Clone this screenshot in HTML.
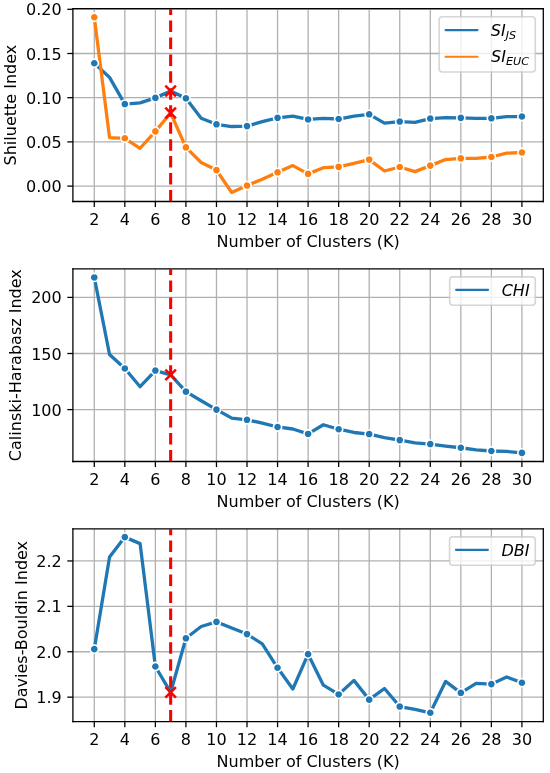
<!DOCTYPE html>
<html><head><meta charset="utf-8"><style>
html,body{margin:0;padding:0;background:#fff;}
body{width:550px;height:773px;overflow:hidden;}
svg{display:block;}
</style></head><body>
<svg width="550" height="773" viewBox="0 0 343.75 483.125" version="1.1">
 
 <defs>
  <style type="text/css">*{stroke-linejoin: round; stroke-linecap: butt}</style>
 </defs>
 <g id="figure_1">
  <g id="patch_1">
   <path d="M 0 483.125 
L 343.75 483.125 
L 343.75 0 
L 0 0 
z
" style="fill: #ffffff"/>
  </g>
  <g id="axes_1">
   <g id="patch_2">
    <path d="M 45.5625 125.9375 
L 339.5625 125.9375 
L 339.5625 5.4375 
L 45.5625 5.4375 
z
" style="fill: #ffffff"/>
   </g>
   <g id="matplotlib.axis_1">
    <g id="xtick_1">
     <g id="line2d_1">
      <path d="M 58.926136 125.9375 
L 58.926136 5.4375 
" clip-path="url(#p461cd8b347)" style="fill: none; stroke: #b0b0b0; stroke-width: 0.8; stroke-linecap: square"/>
     </g>
     <g id="line2d_2">
      <defs>
       <path id="m1504cfccaf" d="M 0 0 
L 0 3.5 
" style="stroke: #000000; stroke-width: 0.8"/>
      </defs>
      <g>
       <use href="#m1504cfccaf" x="58.926136" y="125.9375" style="stroke: #000000; stroke-width: 0.8"/>
      </g>
     </g>
     <g id="text_1">
      <text style="font-size: 10px; font-family: 'DejaVu Sans', sans-serif; text-anchor: middle" x="58.926136" y="140.535937" transform="rotate(-0 58.926136 140.535937)">2</text>
     </g>
    </g>
    <g id="xtick_2">
     <g id="line2d_3">
      <path d="M 78.017045 125.9375 
L 78.017045 5.4375 
" clip-path="url(#p461cd8b347)" style="fill: none; stroke: #b0b0b0; stroke-width: 0.8; stroke-linecap: square"/>
     </g>
     <g id="line2d_4">
      <g>
       <use href="#m1504cfccaf" x="78.017045" y="125.9375" style="stroke: #000000; stroke-width: 0.8"/>
      </g>
     </g>
     <g id="text_2">
      <text style="font-size: 10px; font-family: 'DejaVu Sans', sans-serif; text-anchor: middle" x="78.017045" y="140.535937" transform="rotate(-0 78.017045 140.535937)">4</text>
     </g>
    </g>
    <g id="xtick_3">
     <g id="line2d_5">
      <path d="M 97.107955 125.9375 
L 97.107955 5.4375 
" clip-path="url(#p461cd8b347)" style="fill: none; stroke: #b0b0b0; stroke-width: 0.8; stroke-linecap: square"/>
     </g>
     <g id="line2d_6">
      <g>
       <use href="#m1504cfccaf" x="97.107955" y="125.9375" style="stroke: #000000; stroke-width: 0.8"/>
      </g>
     </g>
     <g id="text_3">
      <text style="font-size: 10px; font-family: 'DejaVu Sans', sans-serif; text-anchor: middle" x="97.107955" y="140.535937" transform="rotate(-0 97.107955 140.535937)">6</text>
     </g>
    </g>
    <g id="xtick_4">
     <g id="line2d_7">
      <path d="M 116.198864 125.9375 
L 116.198864 5.4375 
" clip-path="url(#p461cd8b347)" style="fill: none; stroke: #b0b0b0; stroke-width: 0.8; stroke-linecap: square"/>
     </g>
     <g id="line2d_8">
      <g>
       <use href="#m1504cfccaf" x="116.198864" y="125.9375" style="stroke: #000000; stroke-width: 0.8"/>
      </g>
     </g>
     <g id="text_4">
      <text style="font-size: 10px; font-family: 'DejaVu Sans', sans-serif; text-anchor: middle" x="116.198864" y="140.535937" transform="rotate(-0 116.198864 140.535937)">8</text>
     </g>
    </g>
    <g id="xtick_5">
     <g id="line2d_9">
      <path d="M 135.289773 125.9375 
L 135.289773 5.4375 
" clip-path="url(#p461cd8b347)" style="fill: none; stroke: #b0b0b0; stroke-width: 0.8; stroke-linecap: square"/>
     </g>
     <g id="line2d_10">
      <g>
       <use href="#m1504cfccaf" x="135.289773" y="125.9375" style="stroke: #000000; stroke-width: 0.8"/>
      </g>
     </g>
     <g id="text_5">
      <text style="font-size: 10px; font-family: 'DejaVu Sans', sans-serif; text-anchor: middle" x="135.289773" y="140.535937" transform="rotate(-0 135.289773 140.535937)">10</text>
     </g>
    </g>
    <g id="xtick_6">
     <g id="line2d_11">
      <path d="M 154.380682 125.9375 
L 154.380682 5.4375 
" clip-path="url(#p461cd8b347)" style="fill: none; stroke: #b0b0b0; stroke-width: 0.8; stroke-linecap: square"/>
     </g>
     <g id="line2d_12">
      <g>
       <use href="#m1504cfccaf" x="154.380682" y="125.9375" style="stroke: #000000; stroke-width: 0.8"/>
      </g>
     </g>
     <g id="text_6">
      <text style="font-size: 10px; font-family: 'DejaVu Sans', sans-serif; text-anchor: middle" x="154.380682" y="140.535937" transform="rotate(-0 154.380682 140.535937)">12</text>
     </g>
    </g>
    <g id="xtick_7">
     <g id="line2d_13">
      <path d="M 173.471591 125.9375 
L 173.471591 5.4375 
" clip-path="url(#p461cd8b347)" style="fill: none; stroke: #b0b0b0; stroke-width: 0.8; stroke-linecap: square"/>
     </g>
     <g id="line2d_14">
      <g>
       <use href="#m1504cfccaf" x="173.471591" y="125.9375" style="stroke: #000000; stroke-width: 0.8"/>
      </g>
     </g>
     <g id="text_7">
      <text style="font-size: 10px; font-family: 'DejaVu Sans', sans-serif; text-anchor: middle" x="173.471591" y="140.535937" transform="rotate(-0 173.471591 140.535937)">14</text>
     </g>
    </g>
    <g id="xtick_8">
     <g id="line2d_15">
      <path d="M 192.5625 125.9375 
L 192.5625 5.4375 
" clip-path="url(#p461cd8b347)" style="fill: none; stroke: #b0b0b0; stroke-width: 0.8; stroke-linecap: square"/>
     </g>
     <g id="line2d_16">
      <g>
       <use href="#m1504cfccaf" x="192.5625" y="125.9375" style="stroke: #000000; stroke-width: 0.8"/>
      </g>
     </g>
     <g id="text_8">
      <text style="font-size: 10px; font-family: 'DejaVu Sans', sans-serif; text-anchor: middle" x="192.5625" y="140.535937" transform="rotate(-0 192.5625 140.535937)">16</text>
     </g>
    </g>
    <g id="xtick_9">
     <g id="line2d_17">
      <path d="M 211.653409 125.9375 
L 211.653409 5.4375 
" clip-path="url(#p461cd8b347)" style="fill: none; stroke: #b0b0b0; stroke-width: 0.8; stroke-linecap: square"/>
     </g>
     <g id="line2d_18">
      <g>
       <use href="#m1504cfccaf" x="211.653409" y="125.9375" style="stroke: #000000; stroke-width: 0.8"/>
      </g>
     </g>
     <g id="text_9">
      <text style="font-size: 10px; font-family: 'DejaVu Sans', sans-serif; text-anchor: middle" x="211.653409" y="140.535937" transform="rotate(-0 211.653409 140.535937)">18</text>
     </g>
    </g>
    <g id="xtick_10">
     <g id="line2d_19">
      <path d="M 230.744318 125.9375 
L 230.744318 5.4375 
" clip-path="url(#p461cd8b347)" style="fill: none; stroke: #b0b0b0; stroke-width: 0.8; stroke-linecap: square"/>
     </g>
     <g id="line2d_20">
      <g>
       <use href="#m1504cfccaf" x="230.744318" y="125.9375" style="stroke: #000000; stroke-width: 0.8"/>
      </g>
     </g>
     <g id="text_10">
      <text style="font-size: 10px; font-family: 'DejaVu Sans', sans-serif; text-anchor: middle" x="230.744318" y="140.535937" transform="rotate(-0 230.744318 140.535937)">20</text>
     </g>
    </g>
    <g id="xtick_11">
     <g id="line2d_21">
      <path d="M 249.835227 125.9375 
L 249.835227 5.4375 
" clip-path="url(#p461cd8b347)" style="fill: none; stroke: #b0b0b0; stroke-width: 0.8; stroke-linecap: square"/>
     </g>
     <g id="line2d_22">
      <g>
       <use href="#m1504cfccaf" x="249.835227" y="125.9375" style="stroke: #000000; stroke-width: 0.8"/>
      </g>
     </g>
     <g id="text_11">
      <text style="font-size: 10px; font-family: 'DejaVu Sans', sans-serif; text-anchor: middle" x="249.835227" y="140.535937" transform="rotate(-0 249.835227 140.535937)">22</text>
     </g>
    </g>
    <g id="xtick_12">
     <g id="line2d_23">
      <path d="M 268.926136 125.9375 
L 268.926136 5.4375 
" clip-path="url(#p461cd8b347)" style="fill: none; stroke: #b0b0b0; stroke-width: 0.8; stroke-linecap: square"/>
     </g>
     <g id="line2d_24">
      <g>
       <use href="#m1504cfccaf" x="268.926136" y="125.9375" style="stroke: #000000; stroke-width: 0.8"/>
      </g>
     </g>
     <g id="text_12">
      <text style="font-size: 10px; font-family: 'DejaVu Sans', sans-serif; text-anchor: middle" x="268.926136" y="140.535937" transform="rotate(-0 268.926136 140.535937)">24</text>
     </g>
    </g>
    <g id="xtick_13">
     <g id="line2d_25">
      <path d="M 288.017045 125.9375 
L 288.017045 5.4375 
" clip-path="url(#p461cd8b347)" style="fill: none; stroke: #b0b0b0; stroke-width: 0.8; stroke-linecap: square"/>
     </g>
     <g id="line2d_26">
      <g>
       <use href="#m1504cfccaf" x="288.017045" y="125.9375" style="stroke: #000000; stroke-width: 0.8"/>
      </g>
     </g>
     <g id="text_13">
      <text style="font-size: 10px; font-family: 'DejaVu Sans', sans-serif; text-anchor: middle" x="288.017045" y="140.535937" transform="rotate(-0 288.017045 140.535937)">26</text>
     </g>
    </g>
    <g id="xtick_14">
     <g id="line2d_27">
      <path d="M 307.107955 125.9375 
L 307.107955 5.4375 
" clip-path="url(#p461cd8b347)" style="fill: none; stroke: #b0b0b0; stroke-width: 0.8; stroke-linecap: square"/>
     </g>
     <g id="line2d_28">
      <g>
       <use href="#m1504cfccaf" x="307.107955" y="125.9375" style="stroke: #000000; stroke-width: 0.8"/>
      </g>
     </g>
     <g id="text_14">
      <text style="font-size: 10px; font-family: 'DejaVu Sans', sans-serif; text-anchor: middle" x="307.107955" y="140.535937" transform="rotate(-0 307.107955 140.535937)">28</text>
     </g>
    </g>
    <g id="xtick_15">
     <g id="line2d_29">
      <path d="M 326.198864 125.9375 
L 326.198864 5.4375 
" clip-path="url(#p461cd8b347)" style="fill: none; stroke: #b0b0b0; stroke-width: 0.8; stroke-linecap: square"/>
     </g>
     <g id="line2d_30">
      <g>
       <use href="#m1504cfccaf" x="326.198864" y="125.9375" style="stroke: #000000; stroke-width: 0.8"/>
      </g>
     </g>
     <g id="text_15">
      <text style="font-size: 10px; font-family: 'DejaVu Sans', sans-serif; text-anchor: middle" x="326.198864" y="140.535937" transform="rotate(-0 326.198864 140.535937)">30</text>
     </g>
    </g>
    <g id="text_16">
     <text style="font-size: 10px; font-family: 'DejaVu Sans', sans-serif; text-anchor: middle" x="192.5625" y="154.214062" transform="rotate(-0 192.5625 154.214062)">Number of Clusters (K)</text>
    </g>
   </g>
   <g id="matplotlib.axis_2">
    <g id="ytick_1">
     <g id="line2d_31">
      <path d="M 45.5625 116.31297 
L 339.5625 116.31297 
" clip-path="url(#p461cd8b347)" style="fill: none; stroke: #b0b0b0; stroke-width: 0.8; stroke-linecap: square"/>
     </g>
     <g id="line2d_32">
      <defs>
       <path id="m5d545ce8f8" d="M 0 0 
L -3.5 0 
" style="stroke: #000000; stroke-width: 0.8"/>
      </defs>
      <g>
       <use href="#m5d545ce8f8" x="45.5625" y="116.31297" style="stroke: #000000; stroke-width: 0.8"/>
      </g>
     </g>
     <g id="text_17">
      <text style="font-size: 10px; font-family: 'DejaVu Sans', sans-serif; text-anchor: end" x="38.5625" y="120.112189" transform="rotate(-0 38.5625 120.112189)">0.00</text>
     </g>
    </g>
    <g id="ytick_2">
     <g id="line2d_33">
      <path d="M 45.5625 88.688027 
L 339.5625 88.688027 
" clip-path="url(#p461cd8b347)" style="fill: none; stroke: #b0b0b0; stroke-width: 0.8; stroke-linecap: square"/>
     </g>
     <g id="line2d_34">
      <g>
       <use href="#m5d545ce8f8" x="45.5625" y="88.688027" style="stroke: #000000; stroke-width: 0.8"/>
      </g>
     </g>
     <g id="text_18">
      <text style="font-size: 10px; font-family: 'DejaVu Sans', sans-serif; text-anchor: end" x="38.5625" y="92.487246" transform="rotate(-0 38.5625 92.487246)">0.05</text>
     </g>
    </g>
    <g id="ytick_3">
     <g id="line2d_35">
      <path d="M 45.5625 61.063085 
L 339.5625 61.063085 
" clip-path="url(#p461cd8b347)" style="fill: none; stroke: #b0b0b0; stroke-width: 0.8; stroke-linecap: square"/>
     </g>
     <g id="line2d_36">
      <g>
       <use href="#m5d545ce8f8" x="45.5625" y="61.063085" style="stroke: #000000; stroke-width: 0.8"/>
      </g>
     </g>
     <g id="text_19">
      <text style="font-size: 10px; font-family: 'DejaVu Sans', sans-serif; text-anchor: end" x="38.5625" y="64.862303" transform="rotate(-0 38.5625 64.862303)">0.10</text>
     </g>
    </g>
    <g id="ytick_4">
     <g id="line2d_37">
      <path d="M 45.5625 33.438142 
L 339.5625 33.438142 
" clip-path="url(#p461cd8b347)" style="fill: none; stroke: #b0b0b0; stroke-width: 0.8; stroke-linecap: square"/>
     </g>
     <g id="line2d_38">
      <g>
       <use href="#m5d545ce8f8" x="45.5625" y="33.438142" style="stroke: #000000; stroke-width: 0.8"/>
      </g>
     </g>
     <g id="text_20">
      <text style="font-size: 10px; font-family: 'DejaVu Sans', sans-serif; text-anchor: end" x="38.5625" y="37.237361" transform="rotate(-0 38.5625 37.237361)">0.15</text>
     </g>
    </g>
    <g id="ytick_5">
     <g id="line2d_39">
      <path d="M 45.5625 5.813199 
L 339.5625 5.813199 
" clip-path="url(#p461cd8b347)" style="fill: none; stroke: #b0b0b0; stroke-width: 0.8; stroke-linecap: square"/>
     </g>
     <g id="line2d_40">
      <g>
       <use href="#m5d545ce8f8" x="45.5625" y="5.813199" style="stroke: #000000; stroke-width: 0.8"/>
      </g>
     </g>
     <g id="text_21">
      <text style="font-size: 10px; font-family: 'DejaVu Sans', sans-serif; text-anchor: end" x="38.5625" y="9.612418" transform="rotate(-0 38.5625 9.612418)">0.20</text>
     </g>
    </g>
    <g id="text_22">
     <text style="font-size: 10px; font-family: 'DejaVu Sans', sans-serif; text-anchor: middle" x="10.217187" y="65.6875" transform="rotate(-90 10.217187 65.6875)">Shiluette Index</text>
    </g>
   </g>
   <g id="line2d_41">
    <path d="M 58.926136 39.515629 
L 68.471591 48.355611 
L 78.017045 65.041076 
L 87.5625 64.267578 
L 97.107955 61.173584 
L 106.653409 56.864093 
L 116.198864 61.449834 
L 125.744318 73.936308 
L 135.289773 77.6933 
L 144.835227 79.074547 
L 154.380682 78.798298 
L 163.926136 75.980554 
L 173.471591 73.660058 
L 183.017045 72.555061 
L 192.5625 74.654556 
L 202.107955 73.936308 
L 211.653409 74.378307 
L 221.198864 72.555061 
L 230.744318 71.450063 
L 240.289773 76.975052 
L 249.835227 75.980554 
L 259.380682 76.422553 
L 268.926136 74.102058 
L 278.471591 73.549559 
L 288.017045 73.660058 
L 297.5625 73.936308 
L 307.107955 73.936308 
L 316.653409 72.83131 
L 326.198864 72.83131 
" clip-path="url(#p461cd8b347)" style="fill: none; stroke: #1f77b4; stroke-width: 2.0625; stroke-linecap: round"/>
   </g>
   <g id="line2d_42"/>
   <g id="line2d_43">
    <path d="M 58.926136 10.785689 
L 68.471591 86.036033 
L 78.017045 86.422782 
L 87.5625 92.666019 
L 97.107955 82.113291 
L 106.653409 70.621315 
L 116.198864 92.11352 
L 125.744318 101.561251 
L 135.289773 106.312741 
L 144.835227 120.290962 
L 154.380682 115.981471 
L 163.926136 112.003479 
L 173.471591 107.693988 
L 183.017045 103.494997 
L 192.5625 108.688486 
L 202.107955 104.820994 
L 211.653409 104.268495 
L 221.198864 102.113749 
L 230.744318 99.738004 
L 240.289773 106.86524 
L 249.835227 104.378995 
L 259.380682 107.251989 
L 268.926136 103.494997 
L 278.471591 99.738004 
L 288.017045 98.964506 
L 297.5625 98.964506 
L 307.107955 98.135758 
L 316.653409 95.760013 
L 326.198864 95.318014 
" clip-path="url(#p461cd8b347)" style="fill: none; stroke: #ff7f0e; stroke-width: 2.0625; stroke-linecap: round"/>
   </g>
   <g id="line2d_44"/>
   <g id="patch_3">
    <path d="M 45.5625 125.9375 
L 45.5625 5.4375 
" style="fill: none; stroke: #000000; stroke-width: 0.8; stroke-linejoin: miter; stroke-linecap: square"/>
   </g>
   <g id="patch_4">
    <path d="M 339.5625 125.9375 
L 339.5625 5.4375 
" style="fill: none; stroke: #000000; stroke-width: 0.8; stroke-linejoin: miter; stroke-linecap: square"/>
   </g>
   <g id="patch_5">
    <path d="M 45.5625 125.9375 
L 339.5625 125.9375 
" style="fill: none; stroke: #000000; stroke-width: 0.8; stroke-linejoin: miter; stroke-linecap: square"/>
   </g>
   <g id="patch_6">
    <path d="M 45.5625 5.4375 
L 339.5625 5.4375 
" style="fill: none; stroke: #000000; stroke-width: 0.8; stroke-linejoin: miter; stroke-linecap: square"/>
   </g>
   <g id="line2d_45">
    <defs>
     <path id="m79c58fe3de" d="M 0 2.5625 
C 0.679583 2.5625 1.331423 2.292499 1.811961 1.811961 
C 2.292499 1.331423 2.5625 0.679583 2.5625 0 
C 2.5625 -0.679583 2.292499 -1.331423 1.811961 -1.811961 
C 1.331423 -2.292499 0.679583 -2.5625 0 -2.5625 
C -0.679583 -2.5625 -1.331423 -2.292499 -1.811961 -1.811961 
C -2.292499 -1.331423 -2.5625 -0.679583 -2.5625 0 
C -2.5625 0.679583 -2.292499 1.331423 -1.811961 1.811961 
C -1.331423 2.292499 -0.679583 2.5625 0 2.5625 
z
" style="stroke: #ffffff"/>
    </defs>
    <g clip-path="url(#p461cd8b347)">
     <use href="#m79c58fe3de" x="58.926136" y="39.515629" style="fill: #1f77b4; stroke: #ffffff"/>
     <use href="#m79c58fe3de" x="78.017045" y="65.041076" style="fill: #1f77b4; stroke: #ffffff"/>
     <use href="#m79c58fe3de" x="97.107955" y="61.173584" style="fill: #1f77b4; stroke: #ffffff"/>
     <use href="#m79c58fe3de" x="116.198864" y="61.449834" style="fill: #1f77b4; stroke: #ffffff"/>
     <use href="#m79c58fe3de" x="135.289773" y="77.6933" style="fill: #1f77b4; stroke: #ffffff"/>
     <use href="#m79c58fe3de" x="154.380682" y="78.798298" style="fill: #1f77b4; stroke: #ffffff"/>
     <use href="#m79c58fe3de" x="173.471591" y="73.660058" style="fill: #1f77b4; stroke: #ffffff"/>
     <use href="#m79c58fe3de" x="192.5625" y="74.654556" style="fill: #1f77b4; stroke: #ffffff"/>
     <use href="#m79c58fe3de" x="211.653409" y="74.378307" style="fill: #1f77b4; stroke: #ffffff"/>
     <use href="#m79c58fe3de" x="230.744318" y="71.450063" style="fill: #1f77b4; stroke: #ffffff"/>
     <use href="#m79c58fe3de" x="249.835227" y="75.980554" style="fill: #1f77b4; stroke: #ffffff"/>
     <use href="#m79c58fe3de" x="268.926136" y="74.102058" style="fill: #1f77b4; stroke: #ffffff"/>
     <use href="#m79c58fe3de" x="288.017045" y="73.660058" style="fill: #1f77b4; stroke: #ffffff"/>
     <use href="#m79c58fe3de" x="307.107955" y="73.936308" style="fill: #1f77b4; stroke: #ffffff"/>
     <use href="#m79c58fe3de" x="326.198864" y="72.83131" style="fill: #1f77b4; stroke: #ffffff"/>
    </g>
   </g>
   <g id="line2d_46">
    <defs>
     <path id="mb70cf840ad" d="M 0 2.5625 
C 0.679583 2.5625 1.331423 2.292499 1.811961 1.811961 
C 2.292499 1.331423 2.5625 0.679583 2.5625 0 
C 2.5625 -0.679583 2.292499 -1.331423 1.811961 -1.811961 
C 1.331423 -2.292499 0.679583 -2.5625 0 -2.5625 
C -0.679583 -2.5625 -1.331423 -2.292499 -1.811961 -1.811961 
C -2.292499 -1.331423 -2.5625 -0.679583 -2.5625 0 
C -2.5625 0.679583 -2.292499 1.331423 -1.811961 1.811961 
C -1.331423 2.292499 -0.679583 2.5625 0 2.5625 
z
" style="stroke: #ffffff"/>
    </defs>
    <g clip-path="url(#p461cd8b347)">
     <use href="#mb70cf840ad" x="58.926136" y="10.785689" style="fill: #ff7f0e; stroke: #ffffff"/>
     <use href="#mb70cf840ad" x="78.017045" y="86.422782" style="fill: #ff7f0e; stroke: #ffffff"/>
     <use href="#mb70cf840ad" x="97.107955" y="82.113291" style="fill: #ff7f0e; stroke: #ffffff"/>
     <use href="#mb70cf840ad" x="116.198864" y="92.11352" style="fill: #ff7f0e; stroke: #ffffff"/>
     <use href="#mb70cf840ad" x="135.289773" y="106.312741" style="fill: #ff7f0e; stroke: #ffffff"/>
     <use href="#mb70cf840ad" x="154.380682" y="115.981471" style="fill: #ff7f0e; stroke: #ffffff"/>
     <use href="#mb70cf840ad" x="173.471591" y="107.693988" style="fill: #ff7f0e; stroke: #ffffff"/>
     <use href="#mb70cf840ad" x="192.5625" y="108.688486" style="fill: #ff7f0e; stroke: #ffffff"/>
     <use href="#mb70cf840ad" x="211.653409" y="104.268495" style="fill: #ff7f0e; stroke: #ffffff"/>
     <use href="#mb70cf840ad" x="230.744318" y="99.738004" style="fill: #ff7f0e; stroke: #ffffff"/>
     <use href="#mb70cf840ad" x="249.835227" y="104.378995" style="fill: #ff7f0e; stroke: #ffffff"/>
     <use href="#mb70cf840ad" x="268.926136" y="103.494997" style="fill: #ff7f0e; stroke: #ffffff"/>
     <use href="#mb70cf840ad" x="288.017045" y="98.964506" style="fill: #ff7f0e; stroke: #ffffff"/>
     <use href="#mb70cf840ad" x="307.107955" y="98.135758" style="fill: #ff7f0e; stroke: #ffffff"/>
     <use href="#mb70cf840ad" x="326.198864" y="95.318014" style="fill: #ff7f0e; stroke: #ffffff"/>
    </g>
   </g>
   <g id="line2d_47">
    <path d="M 106.653409 125.9375 
L 106.653409 5.4375 
" clip-path="url(#p461cd8b347)" style="fill: none; stroke-dasharray: 7.1875,3.40625; stroke-dashoffset: 0; stroke: #ff0000; stroke-width: 1.9375"/>
   </g>
   <g id="line2d_48">
    <defs>
     <path id="mdf699074fb" d="M -3.3125 3.3125 
L 3.3125 -3.3125 
M -3.3125 -3.3125 
L 3.3125 3.3125 
" style="stroke: #ff0000; stroke-width: 1.5625"/>
    </defs>
    <g clip-path="url(#p461cd8b347)">
     <use href="#mdf699074fb" x="106.653409" y="56.864093" style="fill: #ff0000; stroke: #ff0000; stroke-width: 1.5625"/>
    </g>
   </g>
   <g id="line2d_49">
    <g clip-path="url(#p461cd8b347)">
     <use href="#mdf699074fb" x="106.653409" y="70.621315" style="fill: #ff0000; stroke: #ff0000; stroke-width: 1.5625"/>
    </g>
   </g>
   <g id="legend_1">
    <g id="patch_7">
     <path d="M 276.4625 45 
L 332.5625 45 
Q 334.5625 45 334.5625 43 
L 334.5625 12.4375 
Q 334.5625 10.4375 332.5625 10.4375 
L 276.4625 10.4375 
Q 274.4625 10.4375 274.4625 12.4375 
L 274.4625 43 
Q 274.4625 45 276.4625 45 
z
" style="fill: #ffffff; opacity: 0.8; stroke: #cccccc; stroke-linejoin: miter"/>
    </g>
    <g id="line2d_50">
     <path d="M 278.4625 18.8125 
L 288.4625 18.8125 
L 298.4625 18.8125 
" style="fill: none; stroke: #1f77b4; stroke-width: 1.3125; stroke-linecap: round"/>
    </g>
    <g id="text_23">
     <!-- $SI_{JS}$ -->
     <g transform="translate(306.775 23.2234)">
      <text>
       <tspan x="0" y="-0.578125" style="font-style: oblique; font-size: 10px; font-family: 'DejaVu Sans', sans-serif">S</tspan>
       <tspan x="6.347656" y="-0.578125" style="font-style: oblique; font-size: 10px; font-family: 'DejaVu Sans', sans-serif">I</tspan>
       <tspan x="9.296875" y="1.0625" style="font-style: oblique; font-size: 7px; font-family: 'DejaVu Sans', sans-serif">J</tspan>
       <tspan x="11.361328" y="1.0625" style="font-style: oblique; font-size: 7px; font-family: 'DejaVu Sans', sans-serif">S</tspan>
      </text>
     </g>
    </g>
    <g id="line2d_51">
     <path d="M 278.4625 35.4375 
L 288.4625 35.4375 
L 298.4625 35.4375 
" style="fill: none; stroke: #ff7f0e; stroke-width: 1.3125; stroke-linecap: round"/>
    </g>
    <g id="text_24">
     <!-- $SI_{EUC}$ -->
     <g transform="translate(306.9 39.6094)">
      <text>
       <tspan x="0" y="-0.578125" style="font-style: oblique; font-size: 10px; font-family: 'DejaVu Sans', sans-serif">S</tspan>
       <tspan x="6.347656" y="-0.578125" style="font-style: oblique; font-size: 10px; font-family: 'DejaVu Sans', sans-serif">I</tspan>
       <tspan x="9.296875" y="1.0625" style="font-style: oblique; font-size: 7px; font-family: 'DejaVu Sans', sans-serif">E</tspan>
       <tspan x="13.719727" y="1.0625" style="font-style: oblique; font-size: 7px; font-family: 'DejaVu Sans', sans-serif">U</tspan>
       <tspan x="18.843262" y="1.0625" style="font-style: oblique; font-size: 7px; font-family: 'DejaVu Sans', sans-serif">C</tspan>
      </text>
     </g>
    </g>
   </g>
  </g>
  <g id="axes_2">
   <g id="patch_8">
    <path d="M 45.5625 288.4375 
L 339.5625 288.4375 
L 339.5625 168.0625 
L 45.5625 168.0625 
z
" style="fill: #ffffff"/>
   </g>
   <g id="matplotlib.axis_3">
    <g id="xtick_16">
     <g id="line2d_52">
      <path d="M 58.926136 288.4375 
L 58.926136 168.0625 
" clip-path="url(#pbae318fad1)" style="fill: none; stroke: #b0b0b0; stroke-width: 0.8; stroke-linecap: square"/>
     </g>
     <g id="line2d_53">
      <g>
       <use href="#m1504cfccaf" x="58.926136" y="288.4375" style="stroke: #000000; stroke-width: 0.8"/>
      </g>
     </g>
     <g id="text_25">
      <text style="font-size: 10px; font-family: 'DejaVu Sans', sans-serif; text-anchor: middle" x="58.926136" y="303.035937" transform="rotate(-0 58.926136 303.035937)">2</text>
     </g>
    </g>
    <g id="xtick_17">
     <g id="line2d_54">
      <path d="M 78.017045 288.4375 
L 78.017045 168.0625 
" clip-path="url(#pbae318fad1)" style="fill: none; stroke: #b0b0b0; stroke-width: 0.8; stroke-linecap: square"/>
     </g>
     <g id="line2d_55">
      <g>
       <use href="#m1504cfccaf" x="78.017045" y="288.4375" style="stroke: #000000; stroke-width: 0.8"/>
      </g>
     </g>
     <g id="text_26">
      <text style="font-size: 10px; font-family: 'DejaVu Sans', sans-serif; text-anchor: middle" x="78.017045" y="303.035937" transform="rotate(-0 78.017045 303.035937)">4</text>
     </g>
    </g>
    <g id="xtick_18">
     <g id="line2d_56">
      <path d="M 97.107955 288.4375 
L 97.107955 168.0625 
" clip-path="url(#pbae318fad1)" style="fill: none; stroke: #b0b0b0; stroke-width: 0.8; stroke-linecap: square"/>
     </g>
     <g id="line2d_57">
      <g>
       <use href="#m1504cfccaf" x="97.107955" y="288.4375" style="stroke: #000000; stroke-width: 0.8"/>
      </g>
     </g>
     <g id="text_27">
      <text style="font-size: 10px; font-family: 'DejaVu Sans', sans-serif; text-anchor: middle" x="97.107955" y="303.035937" transform="rotate(-0 97.107955 303.035937)">6</text>
     </g>
    </g>
    <g id="xtick_19">
     <g id="line2d_58">
      <path d="M 116.198864 288.4375 
L 116.198864 168.0625 
" clip-path="url(#pbae318fad1)" style="fill: none; stroke: #b0b0b0; stroke-width: 0.8; stroke-linecap: square"/>
     </g>
     <g id="line2d_59">
      <g>
       <use href="#m1504cfccaf" x="116.198864" y="288.4375" style="stroke: #000000; stroke-width: 0.8"/>
      </g>
     </g>
     <g id="text_28">
      <text style="font-size: 10px; font-family: 'DejaVu Sans', sans-serif; text-anchor: middle" x="116.198864" y="303.035937" transform="rotate(-0 116.198864 303.035937)">8</text>
     </g>
    </g>
    <g id="xtick_20">
     <g id="line2d_60">
      <path d="M 135.289773 288.4375 
L 135.289773 168.0625 
" clip-path="url(#pbae318fad1)" style="fill: none; stroke: #b0b0b0; stroke-width: 0.8; stroke-linecap: square"/>
     </g>
     <g id="line2d_61">
      <g>
       <use href="#m1504cfccaf" x="135.289773" y="288.4375" style="stroke: #000000; stroke-width: 0.8"/>
      </g>
     </g>
     <g id="text_29">
      <text style="font-size: 10px; font-family: 'DejaVu Sans', sans-serif; text-anchor: middle" x="135.289773" y="303.035937" transform="rotate(-0 135.289773 303.035937)">10</text>
     </g>
    </g>
    <g id="xtick_21">
     <g id="line2d_62">
      <path d="M 154.380682 288.4375 
L 154.380682 168.0625 
" clip-path="url(#pbae318fad1)" style="fill: none; stroke: #b0b0b0; stroke-width: 0.8; stroke-linecap: square"/>
     </g>
     <g id="line2d_63">
      <g>
       <use href="#m1504cfccaf" x="154.380682" y="288.4375" style="stroke: #000000; stroke-width: 0.8"/>
      </g>
     </g>
     <g id="text_30">
      <text style="font-size: 10px; font-family: 'DejaVu Sans', sans-serif; text-anchor: middle" x="154.380682" y="303.035937" transform="rotate(-0 154.380682 303.035937)">12</text>
     </g>
    </g>
    <g id="xtick_22">
     <g id="line2d_64">
      <path d="M 173.471591 288.4375 
L 173.471591 168.0625 
" clip-path="url(#pbae318fad1)" style="fill: none; stroke: #b0b0b0; stroke-width: 0.8; stroke-linecap: square"/>
     </g>
     <g id="line2d_65">
      <g>
       <use href="#m1504cfccaf" x="173.471591" y="288.4375" style="stroke: #000000; stroke-width: 0.8"/>
      </g>
     </g>
     <g id="text_31">
      <text style="font-size: 10px; font-family: 'DejaVu Sans', sans-serif; text-anchor: middle" x="173.471591" y="303.035937" transform="rotate(-0 173.471591 303.035937)">14</text>
     </g>
    </g>
    <g id="xtick_23">
     <g id="line2d_66">
      <path d="M 192.5625 288.4375 
L 192.5625 168.0625 
" clip-path="url(#pbae318fad1)" style="fill: none; stroke: #b0b0b0; stroke-width: 0.8; stroke-linecap: square"/>
     </g>
     <g id="line2d_67">
      <g>
       <use href="#m1504cfccaf" x="192.5625" y="288.4375" style="stroke: #000000; stroke-width: 0.8"/>
      </g>
     </g>
     <g id="text_32">
      <text style="font-size: 10px; font-family: 'DejaVu Sans', sans-serif; text-anchor: middle" x="192.5625" y="303.035937" transform="rotate(-0 192.5625 303.035937)">16</text>
     </g>
    </g>
    <g id="xtick_24">
     <g id="line2d_68">
      <path d="M 211.653409 288.4375 
L 211.653409 168.0625 
" clip-path="url(#pbae318fad1)" style="fill: none; stroke: #b0b0b0; stroke-width: 0.8; stroke-linecap: square"/>
     </g>
     <g id="line2d_69">
      <g>
       <use href="#m1504cfccaf" x="211.653409" y="288.4375" style="stroke: #000000; stroke-width: 0.8"/>
      </g>
     </g>
     <g id="text_33">
      <text style="font-size: 10px; font-family: 'DejaVu Sans', sans-serif; text-anchor: middle" x="211.653409" y="303.035937" transform="rotate(-0 211.653409 303.035937)">18</text>
     </g>
    </g>
    <g id="xtick_25">
     <g id="line2d_70">
      <path d="M 230.744318 288.4375 
L 230.744318 168.0625 
" clip-path="url(#pbae318fad1)" style="fill: none; stroke: #b0b0b0; stroke-width: 0.8; stroke-linecap: square"/>
     </g>
     <g id="line2d_71">
      <g>
       <use href="#m1504cfccaf" x="230.744318" y="288.4375" style="stroke: #000000; stroke-width: 0.8"/>
      </g>
     </g>
     <g id="text_34">
      <text style="font-size: 10px; font-family: 'DejaVu Sans', sans-serif; text-anchor: middle" x="230.744318" y="303.035937" transform="rotate(-0 230.744318 303.035937)">20</text>
     </g>
    </g>
    <g id="xtick_26">
     <g id="line2d_72">
      <path d="M 249.835227 288.4375 
L 249.835227 168.0625 
" clip-path="url(#pbae318fad1)" style="fill: none; stroke: #b0b0b0; stroke-width: 0.8; stroke-linecap: square"/>
     </g>
     <g id="line2d_73">
      <g>
       <use href="#m1504cfccaf" x="249.835227" y="288.4375" style="stroke: #000000; stroke-width: 0.8"/>
      </g>
     </g>
     <g id="text_35">
      <text style="font-size: 10px; font-family: 'DejaVu Sans', sans-serif; text-anchor: middle" x="249.835227" y="303.035937" transform="rotate(-0 249.835227 303.035937)">22</text>
     </g>
    </g>
    <g id="xtick_27">
     <g id="line2d_74">
      <path d="M 268.926136 288.4375 
L 268.926136 168.0625 
" clip-path="url(#pbae318fad1)" style="fill: none; stroke: #b0b0b0; stroke-width: 0.8; stroke-linecap: square"/>
     </g>
     <g id="line2d_75">
      <g>
       <use href="#m1504cfccaf" x="268.926136" y="288.4375" style="stroke: #000000; stroke-width: 0.8"/>
      </g>
     </g>
     <g id="text_36">
      <text style="font-size: 10px; font-family: 'DejaVu Sans', sans-serif; text-anchor: middle" x="268.926136" y="303.035937" transform="rotate(-0 268.926136 303.035937)">24</text>
     </g>
    </g>
    <g id="xtick_28">
     <g id="line2d_76">
      <path d="M 288.017045 288.4375 
L 288.017045 168.0625 
" clip-path="url(#pbae318fad1)" style="fill: none; stroke: #b0b0b0; stroke-width: 0.8; stroke-linecap: square"/>
     </g>
     <g id="line2d_77">
      <g>
       <use href="#m1504cfccaf" x="288.017045" y="288.4375" style="stroke: #000000; stroke-width: 0.8"/>
      </g>
     </g>
     <g id="text_37">
      <text style="font-size: 10px; font-family: 'DejaVu Sans', sans-serif; text-anchor: middle" x="288.017045" y="303.035937" transform="rotate(-0 288.017045 303.035937)">26</text>
     </g>
    </g>
    <g id="xtick_29">
     <g id="line2d_78">
      <path d="M 307.107955 288.4375 
L 307.107955 168.0625 
" clip-path="url(#pbae318fad1)" style="fill: none; stroke: #b0b0b0; stroke-width: 0.8; stroke-linecap: square"/>
     </g>
     <g id="line2d_79">
      <g>
       <use href="#m1504cfccaf" x="307.107955" y="288.4375" style="stroke: #000000; stroke-width: 0.8"/>
      </g>
     </g>
     <g id="text_38">
      <text style="font-size: 10px; font-family: 'DejaVu Sans', sans-serif; text-anchor: middle" x="307.107955" y="303.035937" transform="rotate(-0 307.107955 303.035937)">28</text>
     </g>
    </g>
    <g id="xtick_30">
     <g id="line2d_80">
      <path d="M 326.198864 288.4375 
L 326.198864 168.0625 
" clip-path="url(#pbae318fad1)" style="fill: none; stroke: #b0b0b0; stroke-width: 0.8; stroke-linecap: square"/>
     </g>
     <g id="line2d_81">
      <g>
       <use href="#m1504cfccaf" x="326.198864" y="288.4375" style="stroke: #000000; stroke-width: 0.8"/>
      </g>
     </g>
     <g id="text_39">
      <text style="font-size: 10px; font-family: 'DejaVu Sans', sans-serif; text-anchor: middle" x="326.198864" y="303.035937" transform="rotate(-0 326.198864 303.035937)">30</text>
     </g>
    </g>
    <g id="text_40">
     <text style="font-size: 10px; font-family: 'DejaVu Sans', sans-serif; text-anchor: middle" x="192.5625" y="316.714062" transform="rotate(-0 192.5625 316.714062)">Number of Clusters (K)</text>
    </g>
   </g>
   <g id="matplotlib.axis_4">
    <g id="ytick_6">
     <g id="line2d_82">
      <path d="M 45.5625 255.998099 
L 339.5625 255.998099 
" clip-path="url(#pbae318fad1)" style="fill: none; stroke: #b0b0b0; stroke-width: 0.8; stroke-linecap: square"/>
     </g>
     <g id="line2d_83">
      <g>
       <use href="#m5d545ce8f8" x="45.5625" y="255.998099" style="stroke: #000000; stroke-width: 0.8"/>
      </g>
     </g>
     <g id="text_41">
      <text style="font-size: 10px; font-family: 'DejaVu Sans', sans-serif; text-anchor: end" x="38.5625" y="259.797318" transform="rotate(-0 38.5625 259.797318)">100</text>
     </g>
    </g>
    <g id="ytick_7">
     <g id="line2d_84">
      <path d="M 45.5625 220.936058 
L 339.5625 220.936058 
" clip-path="url(#pbae318fad1)" style="fill: none; stroke: #b0b0b0; stroke-width: 0.8; stroke-linecap: square"/>
     </g>
     <g id="line2d_85">
      <g>
       <use href="#m5d545ce8f8" x="45.5625" y="220.936058" style="stroke: #000000; stroke-width: 0.8"/>
      </g>
     </g>
     <g id="text_42">
      <text style="font-size: 10px; font-family: 'DejaVu Sans', sans-serif; text-anchor: end" x="38.5625" y="224.735277" transform="rotate(-0 38.5625 224.735277)">150</text>
     </g>
    </g>
    <g id="ytick_8">
     <g id="line2d_86">
      <path d="M 45.5625 185.874017 
L 339.5625 185.874017 
" clip-path="url(#pbae318fad1)" style="fill: none; stroke: #b0b0b0; stroke-width: 0.8; stroke-linecap: square"/>
     </g>
     <g id="line2d_87">
      <g>
       <use href="#m5d545ce8f8" x="45.5625" y="185.874017" style="stroke: #000000; stroke-width: 0.8"/>
      </g>
     </g>
     <g id="text_43">
      <text style="font-size: 10px; font-family: 'DejaVu Sans', sans-serif; text-anchor: end" x="38.5625" y="189.673236" transform="rotate(-0 38.5625 189.673236)">200</text>
     </g>
    </g>
    <g id="text_44">
     <text style="font-size: 10px; font-family: 'DejaVu Sans', sans-serif; text-anchor: middle" x="13.395312" y="228.25" transform="rotate(-90 13.395312 228.25)">Calinski-Harabasz Index</text>
    </g>
   </g>
   <g id="line2d_88">
    <path d="M 58.926136 173.39193 
L 68.471591 221.567175 
L 78.017045 230.332685 
L 87.5625 241.692787 
L 97.107955 231.594919 
L 106.653409 234.329758 
L 116.198864 244.778246 
L 125.744318 250.458297 
L 135.289773 255.998099 
L 144.835227 261.32753 
L 154.380682 262.379391 
L 163.926136 264.412989 
L 173.471591 266.867332 
L 183.017045 268.129566 
L 192.5625 271.215025 
L 202.107955 265.464851 
L 211.653409 268.269814 
L 221.198864 270.303412 
L 230.744318 271.285149 
L 240.289773 273.458996 
L 249.835227 275.07185 
L 259.380682 276.824952 
L 268.926136 277.526193 
L 278.471591 278.788426 
L 288.017045 279.840287 
L 297.5625 281.172645 
L 307.107955 281.873886 
L 316.653409 282.154382 
L 326.198864 283.065995 
" clip-path="url(#pbae318fad1)" style="fill: none; stroke: #1f77b4; stroke-width: 2.0625; stroke-linecap: round"/>
   </g>
   <g id="line2d_89"/>
   <g id="patch_9">
    <path d="M 45.5625 288.4375 
L 45.5625 168.0625 
" style="fill: none; stroke: #000000; stroke-width: 0.8; stroke-linejoin: miter; stroke-linecap: square"/>
   </g>
   <g id="patch_10">
    <path d="M 339.5625 288.4375 
L 339.5625 168.0625 
" style="fill: none; stroke: #000000; stroke-width: 0.8; stroke-linejoin: miter; stroke-linecap: square"/>
   </g>
   <g id="patch_11">
    <path d="M 45.5625 288.4375 
L 339.5625 288.4375 
" style="fill: none; stroke: #000000; stroke-width: 0.8; stroke-linejoin: miter; stroke-linecap: square"/>
   </g>
   <g id="patch_12">
    <path d="M 45.5625 168.0625 
L 339.5625 168.0625 
" style="fill: none; stroke: #000000; stroke-width: 0.8; stroke-linejoin: miter; stroke-linecap: square"/>
   </g>
   <g id="line2d_90">
    <g clip-path="url(#pbae318fad1)">
     <use href="#m79c58fe3de" x="58.926136" y="173.39193" style="fill: #1f77b4; stroke: #ffffff"/>
     <use href="#m79c58fe3de" x="78.017045" y="230.332685" style="fill: #1f77b4; stroke: #ffffff"/>
     <use href="#m79c58fe3de" x="97.107955" y="231.594919" style="fill: #1f77b4; stroke: #ffffff"/>
     <use href="#m79c58fe3de" x="116.198864" y="244.778246" style="fill: #1f77b4; stroke: #ffffff"/>
     <use href="#m79c58fe3de" x="135.289773" y="255.998099" style="fill: #1f77b4; stroke: #ffffff"/>
     <use href="#m79c58fe3de" x="154.380682" y="262.379391" style="fill: #1f77b4; stroke: #ffffff"/>
     <use href="#m79c58fe3de" x="173.471591" y="266.867332" style="fill: #1f77b4; stroke: #ffffff"/>
     <use href="#m79c58fe3de" x="192.5625" y="271.215025" style="fill: #1f77b4; stroke: #ffffff"/>
     <use href="#m79c58fe3de" x="211.653409" y="268.269814" style="fill: #1f77b4; stroke: #ffffff"/>
     <use href="#m79c58fe3de" x="230.744318" y="271.285149" style="fill: #1f77b4; stroke: #ffffff"/>
     <use href="#m79c58fe3de" x="249.835227" y="275.07185" style="fill: #1f77b4; stroke: #ffffff"/>
     <use href="#m79c58fe3de" x="268.926136" y="277.526193" style="fill: #1f77b4; stroke: #ffffff"/>
     <use href="#m79c58fe3de" x="288.017045" y="279.840287" style="fill: #1f77b4; stroke: #ffffff"/>
     <use href="#m79c58fe3de" x="307.107955" y="281.873886" style="fill: #1f77b4; stroke: #ffffff"/>
     <use href="#m79c58fe3de" x="326.198864" y="283.065995" style="fill: #1f77b4; stroke: #ffffff"/>
    </g>
   </g>
   <g id="line2d_91">
    <path d="M 106.653409 288.4375 
L 106.653409 168.0625 
" clip-path="url(#pbae318fad1)" style="fill: none; stroke-dasharray: 7.1875,3.40625; stroke-dashoffset: 0; stroke: #ff0000; stroke-width: 1.9375"/>
   </g>
   <g id="line2d_92">
    <g clip-path="url(#pbae318fad1)">
     <use href="#mdf699074fb" x="106.653409" y="234.329758" style="fill: #ff0000; stroke: #ff0000; stroke-width: 1.5625"/>
    </g>
   </g>
   <g id="legend_2">
    <g id="patch_13">
     <path d="M 283.0625 190.740625 
L 332.5625 190.740625 
Q 334.5625 190.740625 334.5625 188.740625 
L 334.5625 175.0625 
Q 334.5625 173.0625 332.5625 173.0625 
L 283.0625 173.0625 
Q 281.0625 173.0625 281.0625 175.0625 
L 281.0625 188.740625 
Q 281.0625 190.740625 283.0625 190.740625 
z
" style="fill: #ffffff; opacity: 0.8; stroke: #cccccc; stroke-linejoin: miter"/>
    </g>
    <g id="line2d_93">
     <path d="M 285.0625 181.160937 
L 295.0625 181.160937 
L 305.0625 181.160937 
" style="fill: none; stroke: #1f77b4; stroke-width: 1.3125; stroke-linecap: round"/>
    </g>
    <g id="text_45">
     <!-- $CHI$ -->
     <g transform="translate(313.5625 185.4109)">
      <text>
       <tspan x="0" y="-0.578125" style="font-style: oblique; font-size: 10px; font-family: 'DejaVu Sans', sans-serif">C</tspan>
       <tspan x="6.982422" y="-0.578125" style="font-style: oblique; font-size: 10px; font-family: 'DejaVu Sans', sans-serif">H</tspan>
       <tspan x="14.501953" y="-0.578125" style="font-style: oblique; font-size: 10px; font-family: 'DejaVu Sans', sans-serif">I</tspan>
      </text>
     </g>
    </g>
   </g>
  </g>
  <g id="axes_3">
   <g id="patch_14">
    <path d="M 45.5625 451 
L 339.5625 451 
L 339.5625 330.5625 
L 45.5625 330.5625 
z
" style="fill: #ffffff"/>
   </g>
   <g id="matplotlib.axis_5">
    <g id="xtick_31">
     <g id="line2d_94">
      <path d="M 58.926136 451 
L 58.926136 330.5625 
" clip-path="url(#pd4a89e59fd)" style="fill: none; stroke: #b0b0b0; stroke-width: 0.8; stroke-linecap: square"/>
     </g>
     <g id="line2d_95">
      <g>
       <use href="#m1504cfccaf" x="58.926136" y="451" style="stroke: #000000; stroke-width: 0.8"/>
      </g>
     </g>
     <g id="text_46">
      <text style="font-size: 10px; font-family: 'DejaVu Sans', sans-serif; text-anchor: middle" x="58.926136" y="465.598438" transform="rotate(-0 58.926136 465.598438)">2</text>
     </g>
    </g>
    <g id="xtick_32">
     <g id="line2d_96">
      <path d="M 78.017045 451 
L 78.017045 330.5625 
" clip-path="url(#pd4a89e59fd)" style="fill: none; stroke: #b0b0b0; stroke-width: 0.8; stroke-linecap: square"/>
     </g>
     <g id="line2d_97">
      <g>
       <use href="#m1504cfccaf" x="78.017045" y="451" style="stroke: #000000; stroke-width: 0.8"/>
      </g>
     </g>
     <g id="text_47">
      <text style="font-size: 10px; font-family: 'DejaVu Sans', sans-serif; text-anchor: middle" x="78.017045" y="465.598438" transform="rotate(-0 78.017045 465.598438)">4</text>
     </g>
    </g>
    <g id="xtick_33">
     <g id="line2d_98">
      <path d="M 97.107955 451 
L 97.107955 330.5625 
" clip-path="url(#pd4a89e59fd)" style="fill: none; stroke: #b0b0b0; stroke-width: 0.8; stroke-linecap: square"/>
     </g>
     <g id="line2d_99">
      <g>
       <use href="#m1504cfccaf" x="97.107955" y="451" style="stroke: #000000; stroke-width: 0.8"/>
      </g>
     </g>
     <g id="text_48">
      <text style="font-size: 10px; font-family: 'DejaVu Sans', sans-serif; text-anchor: middle" x="97.107955" y="465.598438" transform="rotate(-0 97.107955 465.598438)">6</text>
     </g>
    </g>
    <g id="xtick_34">
     <g id="line2d_100">
      <path d="M 116.198864 451 
L 116.198864 330.5625 
" clip-path="url(#pd4a89e59fd)" style="fill: none; stroke: #b0b0b0; stroke-width: 0.8; stroke-linecap: square"/>
     </g>
     <g id="line2d_101">
      <g>
       <use href="#m1504cfccaf" x="116.198864" y="451" style="stroke: #000000; stroke-width: 0.8"/>
      </g>
     </g>
     <g id="text_49">
      <text style="font-size: 10px; font-family: 'DejaVu Sans', sans-serif; text-anchor: middle" x="116.198864" y="465.598438" transform="rotate(-0 116.198864 465.598438)">8</text>
     </g>
    </g>
    <g id="xtick_35">
     <g id="line2d_102">
      <path d="M 135.289773 451 
L 135.289773 330.5625 
" clip-path="url(#pd4a89e59fd)" style="fill: none; stroke: #b0b0b0; stroke-width: 0.8; stroke-linecap: square"/>
     </g>
     <g id="line2d_103">
      <g>
       <use href="#m1504cfccaf" x="135.289773" y="451" style="stroke: #000000; stroke-width: 0.8"/>
      </g>
     </g>
     <g id="text_50">
      <text style="font-size: 10px; font-family: 'DejaVu Sans', sans-serif; text-anchor: middle" x="135.289773" y="465.598438" transform="rotate(-0 135.289773 465.598438)">10</text>
     </g>
    </g>
    <g id="xtick_36">
     <g id="line2d_104">
      <path d="M 154.380682 451 
L 154.380682 330.5625 
" clip-path="url(#pd4a89e59fd)" style="fill: none; stroke: #b0b0b0; stroke-width: 0.8; stroke-linecap: square"/>
     </g>
     <g id="line2d_105">
      <g>
       <use href="#m1504cfccaf" x="154.380682" y="451" style="stroke: #000000; stroke-width: 0.8"/>
      </g>
     </g>
     <g id="text_51">
      <text style="font-size: 10px; font-family: 'DejaVu Sans', sans-serif; text-anchor: middle" x="154.380682" y="465.598438" transform="rotate(-0 154.380682 465.598438)">12</text>
     </g>
    </g>
    <g id="xtick_37">
     <g id="line2d_106">
      <path d="M 173.471591 451 
L 173.471591 330.5625 
" clip-path="url(#pd4a89e59fd)" style="fill: none; stroke: #b0b0b0; stroke-width: 0.8; stroke-linecap: square"/>
     </g>
     <g id="line2d_107">
      <g>
       <use href="#m1504cfccaf" x="173.471591" y="451" style="stroke: #000000; stroke-width: 0.8"/>
      </g>
     </g>
     <g id="text_52">
      <text style="font-size: 10px; font-family: 'DejaVu Sans', sans-serif; text-anchor: middle" x="173.471591" y="465.598438" transform="rotate(-0 173.471591 465.598438)">14</text>
     </g>
    </g>
    <g id="xtick_38">
     <g id="line2d_108">
      <path d="M 192.5625 451 
L 192.5625 330.5625 
" clip-path="url(#pd4a89e59fd)" style="fill: none; stroke: #b0b0b0; stroke-width: 0.8; stroke-linecap: square"/>
     </g>
     <g id="line2d_109">
      <g>
       <use href="#m1504cfccaf" x="192.5625" y="451" style="stroke: #000000; stroke-width: 0.8"/>
      </g>
     </g>
     <g id="text_53">
      <text style="font-size: 10px; font-family: 'DejaVu Sans', sans-serif; text-anchor: middle" x="192.5625" y="465.598438" transform="rotate(-0 192.5625 465.598438)">16</text>
     </g>
    </g>
    <g id="xtick_39">
     <g id="line2d_110">
      <path d="M 211.653409 451 
L 211.653409 330.5625 
" clip-path="url(#pd4a89e59fd)" style="fill: none; stroke: #b0b0b0; stroke-width: 0.8; stroke-linecap: square"/>
     </g>
     <g id="line2d_111">
      <g>
       <use href="#m1504cfccaf" x="211.653409" y="451" style="stroke: #000000; stroke-width: 0.8"/>
      </g>
     </g>
     <g id="text_54">
      <text style="font-size: 10px; font-family: 'DejaVu Sans', sans-serif; text-anchor: middle" x="211.653409" y="465.598438" transform="rotate(-0 211.653409 465.598438)">18</text>
     </g>
    </g>
    <g id="xtick_40">
     <g id="line2d_112">
      <path d="M 230.744318 451 
L 230.744318 330.5625 
" clip-path="url(#pd4a89e59fd)" style="fill: none; stroke: #b0b0b0; stroke-width: 0.8; stroke-linecap: square"/>
     </g>
     <g id="line2d_113">
      <g>
       <use href="#m1504cfccaf" x="230.744318" y="451" style="stroke: #000000; stroke-width: 0.8"/>
      </g>
     </g>
     <g id="text_55">
      <text style="font-size: 10px; font-family: 'DejaVu Sans', sans-serif; text-anchor: middle" x="230.744318" y="465.598438" transform="rotate(-0 230.744318 465.598438)">20</text>
     </g>
    </g>
    <g id="xtick_41">
     <g id="line2d_114">
      <path d="M 249.835227 451 
L 249.835227 330.5625 
" clip-path="url(#pd4a89e59fd)" style="fill: none; stroke: #b0b0b0; stroke-width: 0.8; stroke-linecap: square"/>
     </g>
     <g id="line2d_115">
      <g>
       <use href="#m1504cfccaf" x="249.835227" y="451" style="stroke: #000000; stroke-width: 0.8"/>
      </g>
     </g>
     <g id="text_56">
      <text style="font-size: 10px; font-family: 'DejaVu Sans', sans-serif; text-anchor: middle" x="249.835227" y="465.598438" transform="rotate(-0 249.835227 465.598438)">22</text>
     </g>
    </g>
    <g id="xtick_42">
     <g id="line2d_116">
      <path d="M 268.926136 451 
L 268.926136 330.5625 
" clip-path="url(#pd4a89e59fd)" style="fill: none; stroke: #b0b0b0; stroke-width: 0.8; stroke-linecap: square"/>
     </g>
     <g id="line2d_117">
      <g>
       <use href="#m1504cfccaf" x="268.926136" y="451" style="stroke: #000000; stroke-width: 0.8"/>
      </g>
     </g>
     <g id="text_57">
      <text style="font-size: 10px; font-family: 'DejaVu Sans', sans-serif; text-anchor: middle" x="268.926136" y="465.598438" transform="rotate(-0 268.926136 465.598438)">24</text>
     </g>
    </g>
    <g id="xtick_43">
     <g id="line2d_118">
      <path d="M 288.017045 451 
L 288.017045 330.5625 
" clip-path="url(#pd4a89e59fd)" style="fill: none; stroke: #b0b0b0; stroke-width: 0.8; stroke-linecap: square"/>
     </g>
     <g id="line2d_119">
      <g>
       <use href="#m1504cfccaf" x="288.017045" y="451" style="stroke: #000000; stroke-width: 0.8"/>
      </g>
     </g>
     <g id="text_58">
      <text style="font-size: 10px; font-family: 'DejaVu Sans', sans-serif; text-anchor: middle" x="288.017045" y="465.598438" transform="rotate(-0 288.017045 465.598438)">26</text>
     </g>
    </g>
    <g id="xtick_44">
     <g id="line2d_120">
      <path d="M 307.107955 451 
L 307.107955 330.5625 
" clip-path="url(#pd4a89e59fd)" style="fill: none; stroke: #b0b0b0; stroke-width: 0.8; stroke-linecap: square"/>
     </g>
     <g id="line2d_121">
      <g>
       <use href="#m1504cfccaf" x="307.107955" y="451" style="stroke: #000000; stroke-width: 0.8"/>
      </g>
     </g>
     <g id="text_59">
      <text style="font-size: 10px; font-family: 'DejaVu Sans', sans-serif; text-anchor: middle" x="307.107955" y="465.598438" transform="rotate(-0 307.107955 465.598438)">28</text>
     </g>
    </g>
    <g id="xtick_45">
     <g id="line2d_122">
      <path d="M 326.198864 451 
L 326.198864 330.5625 
" clip-path="url(#pd4a89e59fd)" style="fill: none; stroke: #b0b0b0; stroke-width: 0.8; stroke-linecap: square"/>
     </g>
     <g id="line2d_123">
      <g>
       <use href="#m1504cfccaf" x="326.198864" y="451" style="stroke: #000000; stroke-width: 0.8"/>
      </g>
     </g>
     <g id="text_60">
      <text style="font-size: 10px; font-family: 'DejaVu Sans', sans-serif; text-anchor: middle" x="326.198864" y="465.598438" transform="rotate(-0 326.198864 465.598438)">30</text>
     </g>
    </g>
    <g id="text_61">
     <text style="font-size: 10px; font-family: 'DejaVu Sans', sans-serif; text-anchor: middle" x="192.5625" y="479.276563" transform="rotate(-0 192.5625 479.276563)">Number of Clusters (K)</text>
    </g>
   </g>
   <g id="matplotlib.axis_6">
    <g id="ytick_9">
     <g id="line2d_124">
      <path d="M 45.5625 435.720086 
L 339.5625 435.720086 
" clip-path="url(#pd4a89e59fd)" style="fill: none; stroke: #b0b0b0; stroke-width: 0.8; stroke-linecap: square"/>
     </g>
     <g id="line2d_125">
      <g>
       <use href="#m5d545ce8f8" x="45.5625" y="435.720086" style="stroke: #000000; stroke-width: 0.8"/>
      </g>
     </g>
     <g id="text_62">
      <text style="font-size: 10px; font-family: 'DejaVu Sans', sans-serif; text-anchor: end" x="38.5625" y="439.519305" transform="rotate(-0 38.5625 439.519305)">1.9</text>
     </g>
    </g>
    <g id="ytick_10">
     <g id="line2d_126">
      <path d="M 45.5625 407.34513 
L 339.5625 407.34513 
" clip-path="url(#pd4a89e59fd)" style="fill: none; stroke: #b0b0b0; stroke-width: 0.8; stroke-linecap: square"/>
     </g>
     <g id="line2d_127">
      <g>
       <use href="#m5d545ce8f8" x="45.5625" y="407.34513" style="stroke: #000000; stroke-width: 0.8"/>
      </g>
     </g>
     <g id="text_63">
      <text style="font-size: 10px; font-family: 'DejaVu Sans', sans-serif; text-anchor: end" x="38.5625" y="411.144349" transform="rotate(-0 38.5625 411.144349)">2.0</text>
     </g>
    </g>
    <g id="ytick_11">
     <g id="line2d_128">
      <path d="M 45.5625 378.970175 
L 339.5625 378.970175 
" clip-path="url(#pd4a89e59fd)" style="fill: none; stroke: #b0b0b0; stroke-width: 0.8; stroke-linecap: square"/>
     </g>
     <g id="line2d_129">
      <g>
       <use href="#m5d545ce8f8" x="45.5625" y="378.970175" style="stroke: #000000; stroke-width: 0.8"/>
      </g>
     </g>
     <g id="text_64">
      <text style="font-size: 10px; font-family: 'DejaVu Sans', sans-serif; text-anchor: end" x="38.5625" y="382.769393" transform="rotate(-0 38.5625 382.769393)">2.1</text>
     </g>
    </g>
    <g id="ytick_12">
     <g id="line2d_130">
      <path d="M 45.5625 350.595219 
L 339.5625 350.595219 
" clip-path="url(#pd4a89e59fd)" style="fill: none; stroke: #b0b0b0; stroke-width: 0.8; stroke-linecap: square"/>
     </g>
     <g id="line2d_131">
      <g>
       <use href="#m5d545ce8f8" x="45.5625" y="350.595219" style="stroke: #000000; stroke-width: 0.8"/>
      </g>
     </g>
     <g id="text_65">
      <text style="font-size: 10px; font-family: 'DejaVu Sans', sans-serif; text-anchor: end" x="38.5625" y="354.394438" transform="rotate(-0 38.5625 354.394438)">2.2</text>
     </g>
    </g>
    <g id="text_66">
     <text style="font-size: 10px; font-family: 'DejaVu Sans', sans-serif; text-anchor: middle" x="16.579687" y="390.78125" transform="rotate(-90 16.579687 390.78125)">Davies-Bouldin Index</text>
    </g>
   </g>
   <g id="line2d_132">
    <path d="M 58.926136 405.727758 
L 68.471591 348.154973 
L 78.017045 335.698367 
L 87.5625 339.755986 
L 97.107955 416.566991 
L 106.653409 432.769091 
L 116.198864 398.946144 
L 125.744318 391.568655 
L 135.289773 388.67441 
L 144.835227 392.505029 
L 154.380682 396.307273 
L 163.926136 402.464638 
L 173.471591 417.36149 
L 183.017045 430.612594 
L 192.5625 408.849003 
L 202.107955 428.257473 
L 211.653409 434.017589 
L 221.198864 425.249728 
L 230.744318 437.280709 
L 240.289773 430.328845 
L 249.835227 441.593702 
L 259.380682 443.296199 
L 268.926136 445.481071 
L 278.471591 425.902352 
L 288.017045 433.024465 
L 297.5625 427.065725 
L 307.107955 427.576474 
L 316.653409 423.121606 
L 326.198864 426.69685 
" clip-path="url(#pd4a89e59fd)" style="fill: none; stroke: #1f77b4; stroke-width: 2.0625; stroke-linecap: round"/>
   </g>
   <g id="line2d_133"/>
   <g id="patch_15">
    <path d="M 45.5625 451 
L 45.5625 330.5625 
" style="fill: none; stroke: #000000; stroke-width: 0.8; stroke-linejoin: miter; stroke-linecap: square"/>
   </g>
   <g id="patch_16">
    <path d="M 339.5625 451 
L 339.5625 330.5625 
" style="fill: none; stroke: #000000; stroke-width: 0.8; stroke-linejoin: miter; stroke-linecap: square"/>
   </g>
   <g id="patch_17">
    <path d="M 45.5625 451 
L 339.5625 451 
" style="fill: none; stroke: #000000; stroke-width: 0.8; stroke-linejoin: miter; stroke-linecap: square"/>
   </g>
   <g id="patch_18">
    <path d="M 45.5625 330.5625 
L 339.5625 330.5625 
" style="fill: none; stroke: #000000; stroke-width: 0.8; stroke-linejoin: miter; stroke-linecap: square"/>
   </g>
   <g id="line2d_134">
    <g clip-path="url(#pd4a89e59fd)">
     <use href="#m79c58fe3de" x="58.926136" y="405.727758" style="fill: #1f77b4; stroke: #ffffff"/>
     <use href="#m79c58fe3de" x="78.017045" y="335.698367" style="fill: #1f77b4; stroke: #ffffff"/>
     <use href="#m79c58fe3de" x="97.107955" y="416.566991" style="fill: #1f77b4; stroke: #ffffff"/>
     <use href="#m79c58fe3de" x="116.198864" y="398.946144" style="fill: #1f77b4; stroke: #ffffff"/>
     <use href="#m79c58fe3de" x="135.289773" y="388.67441" style="fill: #1f77b4; stroke: #ffffff"/>
     <use href="#m79c58fe3de" x="154.380682" y="396.307273" style="fill: #1f77b4; stroke: #ffffff"/>
     <use href="#m79c58fe3de" x="173.471591" y="417.36149" style="fill: #1f77b4; stroke: #ffffff"/>
     <use href="#m79c58fe3de" x="192.5625" y="408.849003" style="fill: #1f77b4; stroke: #ffffff"/>
     <use href="#m79c58fe3de" x="211.653409" y="434.017589" style="fill: #1f77b4; stroke: #ffffff"/>
     <use href="#m79c58fe3de" x="230.744318" y="437.280709" style="fill: #1f77b4; stroke: #ffffff"/>
     <use href="#m79c58fe3de" x="249.835227" y="441.593702" style="fill: #1f77b4; stroke: #ffffff"/>
     <use href="#m79c58fe3de" x="268.926136" y="445.481071" style="fill: #1f77b4; stroke: #ffffff"/>
     <use href="#m79c58fe3de" x="288.017045" y="433.024465" style="fill: #1f77b4; stroke: #ffffff"/>
     <use href="#m79c58fe3de" x="307.107955" y="427.576474" style="fill: #1f77b4; stroke: #ffffff"/>
     <use href="#m79c58fe3de" x="326.198864" y="426.69685" style="fill: #1f77b4; stroke: #ffffff"/>
    </g>
   </g>
   <g id="line2d_135">
    <path d="M 106.653409 451 
L 106.653409 330.5625 
" clip-path="url(#pd4a89e59fd)" style="fill: none; stroke-dasharray: 7.1875,3.40625; stroke-dashoffset: 0; stroke: #ff0000; stroke-width: 1.9375"/>
   </g>
   <g id="line2d_136">
    <g clip-path="url(#pd4a89e59fd)">
     <use href="#mdf699074fb" x="106.653409" y="432.769091" style="fill: #ff0000; stroke: #ff0000; stroke-width: 1.5625"/>
    </g>
   </g>
   <g id="legend_3">
    <g id="patch_19">
     <path d="M 282.9625 353.240625 
L 332.5625 353.240625 
Q 334.5625 353.240625 334.5625 351.240625 
L 334.5625 337.5625 
Q 334.5625 335.5625 332.5625 335.5625 
L 282.9625 335.5625 
Q 280.9625 335.5625 280.9625 337.5625 
L 280.9625 351.240625 
Q 280.9625 353.240625 282.9625 353.240625 
z
" style="fill: #ffffff; opacity: 0.8; stroke: #cccccc; stroke-linejoin: miter"/>
    </g>
    <g id="line2d_137">
     <path d="M 284.9625 343.660937 
L 294.9625 343.660937 
L 304.9625 343.660937 
" style="fill: none; stroke: #1f77b4; stroke-width: 1.3125; stroke-linecap: round"/>
    </g>
    <g id="text_67">
     <!-- $DBI$ -->
     <g transform="translate(313.4625 347.9109)">
      <text>
       <tspan x="0" y="-0.703125" style="font-style: oblique; font-size: 10px; font-family: 'DejaVu Sans', sans-serif">D</tspan>
       <tspan x="7.700195" y="-0.703125" style="font-style: oblique; font-size: 10px; font-family: 'DejaVu Sans', sans-serif">B</tspan>
       <tspan x="14.560547" y="-0.703125" style="font-style: oblique; font-size: 10px; font-family: 'DejaVu Sans', sans-serif">I</tspan>
      </text>
     </g>
    </g>
   </g>
  </g>
 </g>
 <defs>
  <clipPath id="p461cd8b347">
   <rect x="45.5625" y="5.4375" width="294" height="120.5"/>
  </clipPath>
  <clipPath id="pbae318fad1">
   <rect x="45.5625" y="168.0625" width="294" height="120.375"/>
  </clipPath>
  <clipPath id="pd4a89e59fd">
   <rect x="45.5625" y="330.5625" width="294" height="120.4375"/>
  </clipPath>
 </defs>
</svg>

</body></html>
